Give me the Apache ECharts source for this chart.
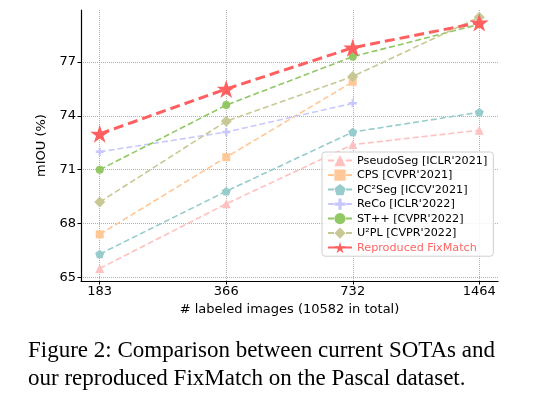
<!DOCTYPE html>
<html>
<head>
<meta charset="utf-8">
<script src="https://cdn.jsdelivr.net/npm/echarts@6/dist/echarts.min.js"></script>
<style>
html,body{margin:0;padding:0;background:#fff;}
#c{width:541px;height:401px;}
</style>
</head>
<body>
<div id="c"></div>
<script>
// ---- data ----
const xLabels = ['183', '366', '732', '1464'];
const yTicks = [65, 68, 71, 74, 77];
const seriesNames = ["PseudoSeg [ICLR'2021]", "CPS [CVPR'2021]", "PC\u00b2Seg [ICCV'2021]", "ReCo [ICLR'2022]", "ST++ [CVPR'2022]", "U\u00b2PL [CVPR'2022]", "Reproduced FixMatch"];
const pseudoSeg = [65.5, 69.1, 72.4, 73.2];
const cps = [67.4, 71.7, 75.9, null];
const pc2Seg = [66.3, 69.8, 73.1, 74.2];
const reco = [72.0, 73.1, 74.7, null];
const stpp = [71.0, 74.6, 77.3, 79.1];
const u2pl = [69.2, 73.7, 76.2, 79.5];
const fixMatch = [73.0, 75.5, 77.8, 79.2];
const caption = 'Figure 2: Comparison between current SOTAs and\nour reproduced FixMatch on the Pascal dataset.';

// ---- styles ----
const STAR = 'path://M50 0 L61.23 34.55 L97.55 34.55 L68.16 55.9 L79.39 90.45 L50 69.1 L20.61 90.45 L31.84 55.9 L2.45 34.55 L38.77 34.55 Z';
const PENTA = 'path://M50 0 L97.55 34.55 L79.39 90.45 L20.61 90.45 L2.45 34.55 Z';
const PLUS = 'path://M35 0 H65 V35 H100 V65 H65 V100 H35 V65 H0 V35 H35 Z';

const styles = [
  {color: '#ffc0c0', symbol: 'triangle', size: 9},
  {color: '#ffc896', symbol: 'rect', size: 8},
  {color: '#96cccc', symbol: PENTA, size: 9},
  {color: '#c8c8ff', symbol: PLUS, size: 8},
  {color: '#91c864', symbol: 'circle', size: 8},
  {color: '#c8c896', symbol: 'diamond', size: 11},
  {color: '#ff5f5f', symbol: STAR, size: 19}
];
const seriesData = [pseudoSeg, cps, pc2Seg, reco, stpp, u2pl, fixMatch];

const series = seriesData.map((vals, i) => {
  const st = styles[i];
  const big = i === 6;
  return {
    name: seriesNames[i],
    type: 'line',
    data: vals.map((v, j) => v == null ? null : [j, v]).filter(d => d),
    symbol: st.symbol,
    symbolSize: st.size,
    symbolKeepAspect: true,
    z: 2 + i,
    itemStyle: {color: st.color, opacity: 1},
    lineStyle: {color: st.color, width: big ? 3 : 1.6, type: big ? [10, 5] : [6, 3]},
    emphasis: {disabled: true}
  };
});

const chart = echarts.init(document.getElementById('c'), null, {renderer: 'canvas'});
chart.setOption({
  animation: false,
  backgroundColor: '#fff',
  graphic: [{
    type: 'text',
    left: 28,
    top: 337,
    style: {
      text: caption,
      font: 'normal 23px "Liberation Serif"',
      fill: '#000',
      align: 'left',
      lineHeight: 28
    }
  }],
  grid: {left: 81, top: 10, right: 43, bottom: 120, containLabel: false},
  legend: {
    orient: 'vertical',
    left: 322,
    top: 152,
    padding: [3, 6, 3, 5],
    itemGap: 3.3,
    itemWidth: 24,
    itemHeight: 14,
    backgroundColor: 'rgba(255,255,255,0.85)',
    borderColor: '#d0d0d0',
    borderWidth: 1,
    borderRadius: 3,
    textStyle: {fontFamily: 'DejaVu Sans', fontSize: 11.2, color: '#000'},
    data: seriesNames.map((n, i) => i === 6 ? {name: n, textStyle: {color: '#ff6666'}} : {name: n})
  },
  xAxis: {
    type: 'value',
    min: -0.148,
    max: 3.148,
    name: '# labeled images (10582 in total)',
    nameLocation: 'middle',
    nameGap: 19,
    nameTextStyle: {fontFamily: 'DejaVu Sans', fontSize: 13, color: '#000'},
    axisLine: {onZero: false, lineStyle: {color: '#000', width: 1.2}},
    axisTick: {show: true, length: 3.5, customValues: [0, 1, 2, 3], lineStyle: {color: '#000'}},
    axisLabel: {customValues: [0, 1, 2, 3], formatter: v => xLabels[Math.round(v)], fontFamily: 'DejaVu Sans', fontSize: 13, color: '#000', margin: 4},
    splitLine: {show: true, lineStyle: {color: '#b0b0b0', type: 'dotted', width: 1}}
  },
  yAxis: {
    type: 'value',
    min: 64.8,
    max: 79.9,
    name: 'mIOU (%)',
    nameLocation: 'middle',
    nameGap: 33,
    nameRotate: 90,
    nameTextStyle: {fontFamily: 'DejaVu Sans', fontSize: 13, color: '#000'},
    axisLine: {show: true, onZero: false, lineStyle: {color: '#000', width: 1.2}},
    axisTick: {show: true, length: 3.5, customValues: yTicks, lineStyle: {color: '#000'}},
    axisLabel: {customValues: yTicks, fontFamily: 'DejaVu Sans', fontSize: 13, color: '#000', margin: 5},
    splitLine: {show: true, lineStyle: {color: '#b0b0b0', type: 'dotted', width: 1}}
  },
  series: series
});
</script>
</body>
</html>
